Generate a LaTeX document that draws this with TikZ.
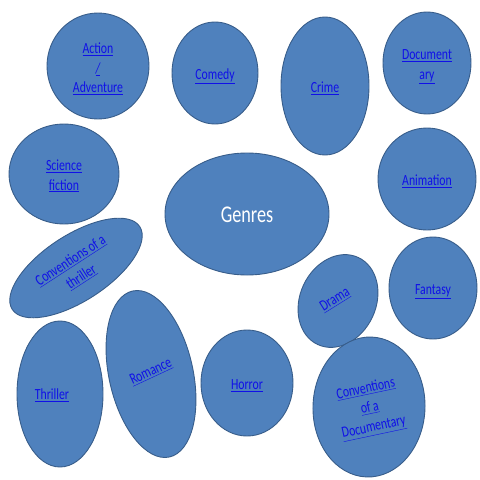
\documentclass[tikz,border=0pt]{standalone}
\usepackage{fontspec}
\setmainfont{Carlito}[FakeStretch=0.76]
\usetikzlibrary{shapes.geometric}
\definecolor{bubblefill}{HTML}{4F81BD}
\definecolor{bubbleline}{HTML}{385D8A}
\definecolor{linkblue}{HTML}{1010E8}
\newcommand{\lnk}[1]{\underline{#1}}
\tikzset{
  bubble/.style={ellipse, fill=bubblefill, draw=bubbleline, line width=0.9pt, inner sep=0pt},
  linktext/.style={text=linkblue, font=\fontsize{15.5}{19.5}\selectfont, align=center, inner sep=0pt},
  hubtext/.style={text=white, font=\fontsize{24}{28}\selectfont, inner sep=0pt}
}
\begin{document}
\begin{tikzpicture}[x=1pt,y=-1pt]
\useasboundingbox (0,0) rectangle (480,480);
% ellipses
\node[bubble, minimum width=102pt, minimum height=106pt] (action) at (98,66) {};
\node[bubble, minimum width=86pt, minimum height=102pt] (comedy) at (215,73) {};
\node[bubble, minimum width=88pt, minimum height=138pt] (crime) at (325,86) {};
\node[bubble, minimum width=88pt, minimum height=102pt] (docu) at (427,63) {};
\node[bubble, minimum width=110pt, minimum height=100pt] (scifi) at (64,174) {};
\node[bubble, minimum width=164pt, minimum height=122pt] (genres) at (247,214) {};
\node[bubble, minimum width=98pt, minimum height=102pt] (anim) at (427,179) {};
\node[bubble, minimum width=152pt, minimum height=66pt, rotate=33] (convthr) at (76,268) {};
\node[bubble, minimum width=76pt, minimum height=96pt, rotate=-25] (drama) at (338,301) {};
\node[bubble, minimum width=88pt, minimum height=102pt] (fantasy) at (433,288) {};
\node[bubble, minimum width=86pt, minimum height=146pt] (thriller) at (60,394) {};
\node[bubble, minimum width=84pt, minimum height=170pt, rotate=12.5] (romance) at (151,374) {};
\node[bubble, minimum width=92pt, minimum height=106pt] (horror) at (247,383) {};
\node[bubble, minimum width=112pt, minimum height=140pt, rotate=-2] (convdoc) at (369,407) {};
% labels
\node[linktext] (tAction) at ([yshift=-3pt]action.center) {\lnk{Action}\\\lnk{\itshape/}\\\lnk{Adventure}};
\node[linktext] (tComedy) at ([yshift=-3pt]comedy.center) {\lnk{Comedy}};
\node[linktext] (tCrime) at ([yshift=-2pt]crime.center) {\lnk{Crime}};
\node[linktext] (tDocu) at ([yshift=-4pt]docu.center) {\lnk{Document}\\\lnk{ary}};
\node[linktext] (tScifi) at ([yshift=-2pt]scifi.center) {\lnk{Science}\\\lnk{fiction}};
\node[hubtext] (tGenres) at ([yshift=-1pt]genres.center) {Genres};
\node[linktext] (tAnim) at ([yshift=-2pt]anim.center) {\lnk{Animation}};
\node[linktext, rotate=33] (tConvthr) at ([xshift=0pt,yshift=-1pt]convthr.center) {\lnk{Conventions of a}\\\lnk{thriller}};
\node[linktext, rotate=32] (tDrama) at ([xshift=-3pt,yshift=1pt]drama.center) {\lnk{Drama}};
\node[linktext] (tFantasy) at ([yshift=-4pt]fantasy.center) {\lnk{Fantasy}};
\node[linktext] (tThriller) at ([xshift=-8pt,yshift=-1pt]thriller.center) {\lnk{Thriller}};
\node[linktext, rotate=25] (tRomance) at ([yshift=2pt]romance.center) {\lnk{Romance}};
\node[linktext] (tHorror) at ([yshift=-3pt]horror.center) {\lnk{Horror}};
\node[linktext, rotate=12] (tConvdoc) at ([xshift=1pt,yshift=-2pt]convdoc.center) {\lnk{Conventions}\\\lnk{of a}\\\lnk{Documentary}};
\end{tikzpicture}
\end{document}
